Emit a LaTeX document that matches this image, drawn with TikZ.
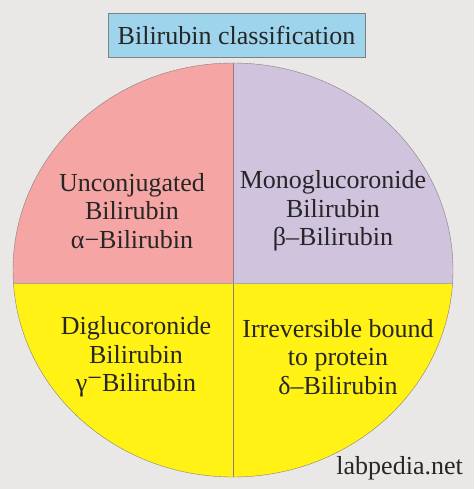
\documentclass[tikz,border=0pt]{standalone}
\usepackage{fontspec}
\setmainfont{Liberation Serif}
\usetikzlibrary{positioning}

\definecolor{bggray}{HTML}{E9E8E6}
\definecolor{pinkq}{HTML}{F5A5A3}
\definecolor{lilacq}{HTML}{CFC3DE}
\definecolor{yellowq}{HTML}{FFF214}
\definecolor{titleblue}{HTML}{9ED5EC}
\definecolor{rimline}{HTML}{8C7F7A}

\begin{document}
\begin{tikzpicture}[x=1pt, y=-1pt,
  every node/.style={font=\fontsize{26}{28.5}\selectfont, text=black!85},
  quadtext/.style={align=center, inner sep=0pt}]
  % background
  \fill[bggray] (0,0) rectangle (474,489);
  \useasboundingbox (0,0) rectangle (474,489);

  % quadrants of the disc
  \begin{scope}
    \clip (233,270) ellipse [x radius=220, y radius=207];
    \fill[pinkq] (0,0) rectangle (233,283);
    \fill[lilacq] (233,0) rectangle (474,283);
    \fill[yellowq] (0,283) rectangle (474,489);
    \draw[rimline, thin] (233,0) -- (233,489);
    \draw[rimline!70, thin] (0,283) -- (474,283);
  \end{scope}
  \draw[rimline, thin] (233,270) ellipse [x radius=220, y radius=207];

  % title
  \node[draw=gray, fill=titleblue, minimum width=257pt, minimum height=44pt,
    inner sep=0pt] (title) at (236.5,35) {Bilirubin classification};

  % labels
  \node[quadtext] (alpha) at (132,211) {Unconjugated\\Bilirubin\\α−Bilirubin};
  \node[quadtext] (beta) at (333,211) {Monoglucoronide\\Bilirubin\\β–Bilirubin};
  \node[quadtext] (gamma) at (136,357) {Diglucoronide\\Bilirubin\\γ\raisebox{5pt}{−}Bilirubin};
  \node[quadtext] (delta) at (338,357) {Irreversible bound\\to protein\\δ–Bilirubin};

  \node[anchor=base east, inner sep=0pt] (site) at (463,474) {labpedia.net};
\end{tikzpicture}
\end{document}
